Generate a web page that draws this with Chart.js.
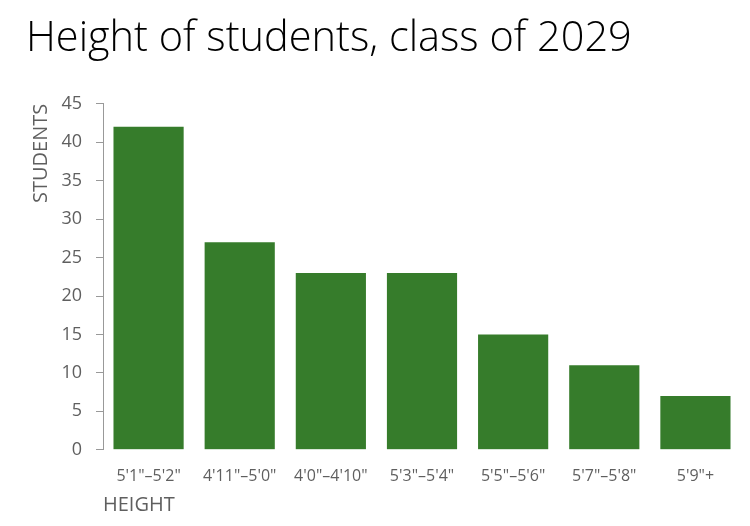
<!DOCTYPE html>
<html>
<head>
<meta charset="utf-8">
<script src="https://cdn.jsdelivr.net/npm/chart.js@4"></script>
<style>
  html, body { margin: 0; padding: 0; background: #fff; }
  #wrap { width: 750px; height: 526px; }
</style>
</head>
<body>
<div id="wrap"><canvas id="heightChart"></canvas></div>
<script>
// height ranges, in the order shown
var heightLabels = ['5\'1"–5\'2"', '4\'11"–5\'0"', '4\'0"–4\'10"', '5\'3"–5\'4"', '5\'5"–5\'6"', '5\'7"–5\'8"', '5\'9"+'];
// number of students per range
var studentCounts = [42, 27, 23, 23, 15, 11, 7];

var barGreen = '#367c2b';
var axisGrey = '#999999';
var textGrey = '#5f5f5f';
var fontName = '"Open Sans"';

var ctx = document.getElementById('heightChart').getContext('2d');
var chart = new Chart(ctx, {
  type: 'bar',
  data: {
    labels: heightLabels,
    datasets: [{
      label: 'Students',
      data: studentCounts,
      backgroundColor: barGreen,
      borderWidth: 0,
      categoryPercentage: 1,
      barPercentage: 0.77
    }]
  },
  options: {
    responsive: true,
    maintainAspectRatio: false,
    animation: false,
    layout: { padding: { left: 26, right: 9, top: 14, bottom: 9 } },
    plugins: {
      legend: { display: false },
      tooltip: { enabled: false },
      title: {
        display: true,
        text: 'Height of students, class of 2029',
        align: 'start',
        color: '#000',
        font: { family: fontName, size: 41.5, weight: 300 },
        padding: { top: 0, bottom: 40 }
      }
    },
    scales: {
      x: {
        grid: { display: false },
        border: { display: false },
        ticks: {
          color: textGrey,
          font: { family: fontName, size: 16 },
          maxRotation: 0,
          autoSkip: false,
          padding: 9
        },
        title: {
          display: true,
          text: 'HEIGHT',
          align: 'start',
          color: textGrey,
          font: { family: fontName, size: 20 },
          padding: { top: -2, bottom: 0 }
        }
      },
      y: {
        min: 0,
        max: 45,
        afterFit: function (scale) { scale.width = 77; },
        grid: {
          drawOnChartArea: false,
          drawTicks: true,
          tickLength: 7,
          color: axisGrey
        },
        border: { display: true, color: axisGrey, width: 1 },
        ticks: {
          stepSize: 5,
          color: textGrey,
          font: { family: fontName, size: 18 },
          padding: 14
        },
        title: {
          display: true,
          text: 'STUDENTS',
          align: 'end',
          color: textGrey,
          font: { family: fontName, size: 20 },
          padding: { top: 3, bottom: 0 }
        }
      }
    }
  }
});
</script>
</body>
</html>
